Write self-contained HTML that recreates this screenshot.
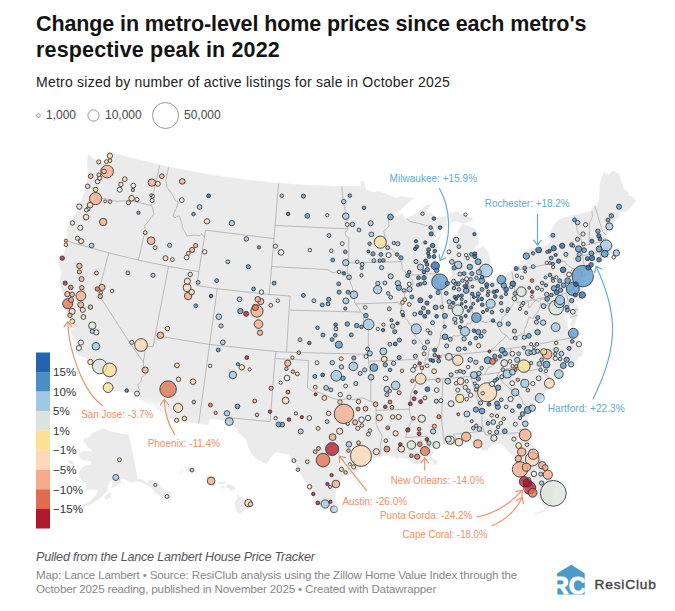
<!DOCTYPE html>
<html lang="en"><head><meta charset="utf-8"><title>Change in metro-level home prices</title>
<style>
html,body{margin:0;padding:0;background:#fff;}
body{width:675px;height:611px;position:relative;overflow:hidden;font-family:"Liberation Sans",Arial,sans-serif;color:#333;}
h1{position:absolute;left:36px;top:11.1px;margin:0;font-size:21.5px;line-height:26px;font-weight:700;color:#141414;letter-spacing:-0.11px;white-space:nowrap;}
.sub{position:absolute;left:36px;top:72px;margin:0;font-size:14px;line-height:20px;color:#222;white-space:nowrap;letter-spacing:0.24px;}
.sz{position:absolute;top:107px;font-size:12px;line-height:16px;color:#484848;white-space:nowrap;}
.note{position:absolute;left:36px;top:548px;font-size:12.6px;line-height:18px;font-style:italic;color:#555;white-space:nowrap;letter-spacing:-0.22px;}
.foot{position:absolute;left:36px;top:568.3px;font-size:11.6px;line-height:13.7px;color:#888;white-space:nowrap;letter-spacing:-0.15px;}
.logo{position:absolute;left:594.5px;top:575.2px;font-size:13.7px;line-height:20px;font-weight:400;color:#474747;letter-spacing:0.84px;-webkit-text-stroke:0.45px #474747;}
svg{position:absolute;left:0;top:0;}
svg text{font-family:"Liberation Sans",Arial,sans-serif;}
</style></head><body>
<h1>Change in metro-level home prices since each metro's<br><span style="letter-spacing:0.16px">respective peak in 2022</span></h1>
<p class="sub">Metro sized by number of active listings for sale in October 2025</p>
<span class="sz" style="left:46px">1,000</span><span class="sz" style="left:105px">10,000</span><span class="sz" style="left:184px">50,000</span>
<svg width="675" height="611" viewBox="0 0 675 611">
<g fill="none" stroke="#8c8c8c" stroke-width="0.9"><circle cx="38.5" cy="115.5" r="1.8"/><circle cx="93.5" cy="115.5" r="5.6"/><circle cx="165.5" cy="115.5" r="13"/></g>
<path d="M88.4,154.6L93.3,158.7L98.9,161.4L103.2,163.1L105.2,163.0L105.5,166.7L100.3,173.1L98.5,176.2L100.7,177.1L104.6,175.5L106.5,171.3L109.2,166.3L108.5,161.8L109.8,155.7L108.2,151.7L133.1,158.5L159.8,164.9L168.7,166.9L196.4,172.3L223.9,176.9L251.4,180.5L278.6,183.2L306.8,185.2L334.6,186.2L341.8,186.3L361.0,186.4L361.0,181.1L363.8,181.9L365.7,189.8L373.7,192.6L377.4,191.6L384.9,193.4L390.7,196.0L396.4,198.2L401.9,196.1L409.6,197.7L413.4,198.2L406.2,204.2L398.0,211.6L390.6,216.8L396.3,216.1L402.4,213.4L404.1,217.5L406.8,218.5L414.5,214.4L420.9,210.1L425.3,205.9L431.4,204.4L427.5,209.6L425.5,214.0L430.6,212.2L435.9,217.0L443.6,217.2L450.0,213.4L458.5,211.2L459.8,214.8L465.1,214.1L467.9,217.3L473.0,218.8L470.4,221.2L462.8,223.5L455.7,221.1L448.2,223.8L443.7,227.7L439.8,228.1L435.7,236.9L432.7,242.1L432.4,244.9L436.0,240.4L440.9,233.9L438.5,240.8L437.2,248.0L436.3,255.1L435.2,265.7L436.9,273.3L439.1,281.6L441.5,284.9L445.1,284.6L448.5,282.1L451.1,276.9L452.8,268.3L448.6,257.4L448.9,249.7L449.5,241.2L453.5,237.2L455.2,234.2L456.6,238.3L457.5,232.6L460.3,227.3L462.4,224.3L468.1,226.1L475.4,229.3L478.1,235.0L478.7,243.3L473.9,248.9L474.5,253.1L479.0,249.0L483.2,246.3L487.4,251.3L490.2,260.1L490.5,265.5L487.2,268.4L485.1,271.5L484.5,275.1L482.5,279.4L488.6,281.7L494.9,281.8L500.9,279.9L507.3,274.2L511.9,271.3L515.7,268.2L518.9,266.0L524.6,259.6L526.1,256.4L523.6,251.2L529.8,248.3L538.0,248.2L545.8,245.9L548.7,242.7L550.9,240.9L548.5,234.2L552.4,228.8L556.0,221.9L561.3,218.5L574.2,215.3L591.9,210.9L592.1,207.8L594.8,205.9L597.2,206.0L597.0,203.5L599.6,198.1L599.5,192.3L600.2,187.8L599.8,184.3L603.9,172.1L606.2,173.8L608.0,175.0L612.8,171.0L618.5,173.4L623.3,188.3L627.8,192.0L629.0,196.0L632.4,197.1L635.5,201.0L630.9,207.1L626.0,211.5L619.7,211.2L618.9,217.3L612.6,222.7L609.3,225.8L607.6,232.9L606.1,235.2L606.2,238.0L609.0,240.5L606.3,245.6L609.8,246.8L611.7,249.9L613.4,252.1L617.9,250.7L616.6,247.5L615.1,247.3L618.4,248.8L619.3,251.9L615.9,253.4L612.8,255.8L611.1,253.4L608.4,257.4L605.0,256.8L605.4,258.9L604.9,260.2L601.4,261.8L596.7,263.8L591.1,265.2L586.7,269.0L584.4,270.7L583.0,273.9L587.2,271.2L594.7,268.6L598.1,265.2L601.0,265.9L602.2,265.3L596.7,270.3L589.2,274.9L582.7,277.2L580.6,277.1L580.0,279.4L582.7,279.5L583.7,286.1L582.2,293.7L579.3,300.1L577.6,302.2L574.7,299.0L570.3,296.4L569.1,293.7L571.2,298.3L574.9,302.5L576.4,304.4L578.0,309.1L578.0,311.2L576.9,316.5L574.9,323.5L572.2,329.5L570.9,325.0L572.3,318.3L569.7,316.7L565.6,313.2L563.9,307.8L564.1,303.4L564.9,296.8L563.7,296.3L560.9,301.2L561.4,305.2L562.3,311.7L564.3,314.9L565.8,317.6L558.9,315.3L556.4,311.5L557.0,314.3L560.8,316.8L566.9,319.4L567.1,324.4L568.4,329.2L568.5,332.0L569.2,332.9L572.5,332.2L575.0,337.1L577.7,341.6L580.9,346.6L582.8,352.0L582.7,354.5L577.9,357.8L573.4,365.5L568.0,365.6L563.1,370.5L560.1,376.1L559.5,379.1L552.8,380.3L549.2,383.4L547.0,390.7L543.6,394.8L540.1,398.7L534.5,404.2L532.2,408.1L530.2,410.2L527.8,418.1L526.3,424.0L526.6,429.6L528.0,434.3L530.3,440.3L535.2,449.4L539.6,455.1L542.3,458.9L542.5,463.8L546.6,469.4L550.2,475.9L552.7,481.8L553.2,490.1L553.6,494.5L551.8,500.9L549.6,503.3L545.3,504.7L542.5,505.2L541.6,501.8L537.5,496.2L531.9,492.8L529.3,488.3L526.6,487.3L524.2,483.5L521.9,481.0L519.8,477.8L519.1,474.4L520.4,470.7L517.6,473.2L515.3,470.0L515.7,463.6L515.6,456.6L510.6,454.1L505.5,447.4L500.7,443.4L495.7,442.7L493.0,445.1L486.3,450.3L482.0,450.1L481.0,446.9L477.1,444.1L470.8,442.0L465.9,441.5L458.8,443.3L455.3,444.2L449.9,445.4L450.1,440.1L448.2,439.2L447.8,443.9L444.4,443.8L438.4,444.0L433.1,445.7L430.2,447.6L427.3,449.6L432.7,449.6L433.6,453.3L430.1,455.7L433.4,459.0L437.8,461.4L436.8,463.9L433.6,464.8L432.9,461.1L427.9,459.3L425.6,461.6L421.5,463.5L415.4,464.3L410.4,461.0L408.4,458.0L403.5,458.5L399.9,457.3L401.0,454.7L398.1,458.4L389.5,455.9L385.8,455.4L379.2,456.6L372.6,459.1L368.7,461.6L368.3,456.1L365.3,457.5L366.6,462.4L361.7,467.6L353.2,472.9L348.2,475.7L345.8,472.2L342.7,479.1L340.2,482.8L335.8,483.5L337.0,486.7L335.1,490.8L335.6,499.8L338.0,506.8L338.6,508.6L334.2,509.8L325.3,507.3L318.5,503.3L314.1,501.8L312.2,495.1L309.7,486.7L305.5,482.4L302.6,476.7L298.0,469.5L295.8,463.8L293.0,460.2L287.8,454.0L281.8,453.2L277.1,451.8L273.9,453.4L269.9,458.7L265.9,463.8L260.6,460.8L255.3,458.0L251.7,454.3L248.4,447.2L246.6,440.0L241.1,435.2L234.8,426.8L229.4,421.2L229.1,420.9L209.4,418.5L208.6,424.8L175.0,419.9L153.9,407.5L134.5,396.1L136.1,393.1L108.2,389.9L107.2,387.2L107.3,385.1L107.1,380.0L104.5,375.7L100.8,371.1L97.6,369.9L97.8,367.7L96.8,365.6L93.9,365.4L89.3,360.3L85.3,357.4L77.0,354.5L75.4,352.2L77.6,344.9L75.9,340.8L72.3,335.5L68.2,325.2L68.8,320.9L71.2,318.7L69.1,315.9L66.3,311.7L66.6,305.7L67.5,303.3L69.2,303.5L70.7,308.3L70.8,303.9L69.2,301.3L67.7,302.6L65.9,301.1L63.1,298.8L63.8,294.6L59.5,284.5L60.7,276.0L61.8,271.2L58.6,263.6L58.7,261.6L62.7,257.5L66.0,248.2L66.1,244.6L67.1,241.2L67.2,233.9L67.1,228.9L71.9,222.1L76.1,214.6L79.1,206.3L83.8,195.0L86.3,184.9L87.5,179.4L88.2,175.3L87.7,167.2L87.1,161.2L88.4,154.6ZM128.6,434.6L121.6,434.0L115.5,432.8L109.6,431.0L102.2,428.5L98.2,430.9L92.1,433.2L89.9,436.8L84.8,438.5L83.2,440.8L86.9,444.6L88.3,447.8L91.5,448.7L91.7,451.7L87.7,451.6L83.8,451.0L78.1,453.4L80.5,458.3L82.5,459.7L87.5,460.5L91.6,461.5L91.2,465.4L87.9,465.5L82.6,467.2L80.5,470.3L78.7,473.5L80.5,477.2L83.3,482.6L86.5,482.6L86.5,486.5L85.7,489.1L91.3,489.0L95.0,489.3L98.3,490.0L97.1,493.4L95.9,495.3L88.7,502.5L82.9,504.8L76.0,507.3L75.8,508.5L80.5,507.9L84.0,506.9L89.9,504.6L94.2,502.0L99.7,498.4L103.8,494.6L106.4,491.6L108.1,489.4L106.9,486.3L109.7,482.3L113.0,478.8L115.7,477.4L115.1,479.1L112.8,481.0L112.3,485.2L111.6,487.6L116.2,486.0L117.6,483.7L120.9,483.1L120.2,479.8L124.0,477.9L126.2,480.1L130.6,482.0L135.4,481.2L141.1,482.0L146.2,484.4L150.7,486.7L154.8,491.7L159.6,495.4L164.2,499.1L168.5,498.6L171.2,497.9L170.6,492.2L164.4,490.2L163.4,489.0L159.2,485.3L158.1,483.6L155.1,481.7L152.8,480.1L149.3,480.5L147.3,483.6L143.7,480.4L142.0,479.3L137.5,479.3L128.6,434.6ZM104.3,497.0L106.6,499.7L110.8,496.5L111.0,493.8L108.9,493.6L106.4,495.1ZM69.3,512.0L66.3,512.4L63.0,513.4L66.0,510.8L69.5,509.8L71.4,510.4ZM68.0,462.0L70.9,463.8L74.1,464.5L72.6,461.6L69.1,460.5ZM74.2,479.6L77.2,482.1L78.1,480.8L77.0,479.1ZM45.6,513.0L49.9,514.3L51.7,513.5L46.9,511.8ZM36.3,511.8L40.7,513.1L40.5,511.8L36.5,510.6ZM237.0,494.9L247.3,500.7L251.3,505.3L242.1,511.2L239.8,513.7L236.6,511.2L234.7,502.9L237.5,498.7ZM226.3,485.5L227.6,484.4L232.2,485.5L235.4,487.9L234.1,489.9L230.2,490.6L228.9,487.9L226.5,487.3ZM218.4,483.4L219.0,481.8L226.0,482.5L223.9,484.1ZM221.7,486.2L224.7,486.9L223.6,488.6L221.7,487.6ZM205.6,476.9L209.5,474.8L213.8,480.7L211.8,481.3L207.9,480.6ZM186.0,470.1L188.4,467.6L192.3,468.8L191.9,471.5L188.4,472.5ZM179.9,472.8L182.1,470.7L182.5,472.1ZM552.1,502.6L549.3,506.9L543.8,511.2L535.2,514.6L535.0,513.7L543.5,509.9L549.3,505.2L552.5,501.4Z" fill="#ebebeb" stroke="#ebebeb" stroke-width="0.6" stroke-linejoin="round"/>
<path d="M86.3,184.9L91.7,187.2L95.5,189.8L95.9,193.6L96.0,196.9L100.5,198.9L105.6,198.5L110.2,200.5L117.0,201.3L126.2,200.8L131.9,201.8L132.3,201.1L151.8,205.7M159.8,164.9L151.9,199.6L151.8,205.7M151.8,205.7L152.6,208.1L154.1,214.1L151.4,217.1L149.2,220.2L144.3,226.2L145.5,230.1L146.0,232.3L144.0,235.5L138.4,260.1M67.1,241.2L108.7,252.9L138.4,260.1L168.5,266.4L198.9,271.7M108.7,252.9L98.2,293.8L116.0,321.4L131.1,345.0L143.4,361.9M143.4,361.9L143.5,364.8L144.1,372.1L146.8,373.0L141.9,377.4L140.8,381.5L137.7,385.1L139.4,389.8L137.3,393.2L136.1,393.1M143.4,361.9L144.8,353.6L145.1,347.2L149.1,346.5L153.0,346.6L155.2,335.5M155.2,335.5L168.5,266.4M155.2,335.5L209.6,344.5L276.0,351.5L286.4,352.2L368.4,354.3M209.6,344.5L217.3,288.7M217.3,288.7L196.7,285.6L198.9,271.7L204.4,237.4M217.3,288.7L269.2,294.5L290.0,296.0L289.1,310.1L286.4,352.2M289.1,310.1L360.6,312.1M204.4,237.4L201.5,233.5L200.1,235.7L194.2,235.1L187.0,236.0L185.1,232.4L182.1,226.9L182.1,224.0L179.2,215.7L174.8,217.7L173.1,216.3L174.3,212.6L176.1,208.7L178.4,202.1L175.2,200.7L173.2,196.1L170.6,192.0L167.2,187.7L165.8,180.6L168.7,166.9M204.4,237.4L205.5,230.2L274.0,238.6M278.6,183.2L275.1,225.5L274.0,238.6L271.6,266.5L269.2,294.5M275.1,225.5L347.7,228.8M271.6,266.5L327.8,269.6L332.8,272.9L336.9,271.9L341.0,272.0L346.0,275.5L348.6,276.9M341.8,186.3L342.4,194.6L343.3,201.5L345.1,208.5L345.5,215.4L347.4,223.8L347.7,228.8M347.7,228.8L344.9,232.8L346.3,236.3L348.8,237.7L348.6,262.9M348.6,262.9L347.1,268.5L348.1,274.1L348.6,276.9M348.6,262.9L401.3,261.7M348.6,276.9L350.1,281.9L352.1,286.8L354.0,294.5L354.7,302.3L355.6,303.9L359.5,309.3L360.6,312.1M355.6,303.9L398.0,302.5L401.4,305.6M360.6,312.1L364.9,315.6L362.8,319.1L368.2,324.4L368.4,354.3L368.5,361.3M368.5,361.3L418.1,359.4L418.9,362.2L416.1,366.6L423.6,366.1M368.5,361.3L370.9,376.8L370.7,401.5M370.7,401.5L375.8,402.7L376.0,410.4L376.2,424.4L379.2,430.7L382.3,436.2L380.5,444.0L380.9,450.9L379.2,456.6M376.0,410.4L409.3,409.2M370.7,401.5L362.4,397.7L353.2,399.7L346.3,398.7L339.4,400.0L331.3,397.8L324.5,394.5L316.6,391.8L310.9,390.2L307.6,387.8L308.7,360.5L275.5,358.6M276.0,351.5L275.0,358.5L270.1,421.6L228.4,417.7L229.1,420.9M209.6,344.5L198.7,423.4M409.3,409.2L410.5,416.2L413.0,418.9L407.6,429.0L405.6,437.5L427.9,436.2L426.8,441.2L430.2,447.6M409.3,409.2L409.8,402.2L411.5,392.2L414.6,386.4L417.7,380.6L419.9,378.4L421.7,371.9L423.6,366.1L425.0,361.8L425.3,358.9L428.5,356.6L428.7,351.6M417.7,380.6L441.5,378.9L470.8,376.4L485.2,374.5L498.9,372.6M441.5,378.9L442.7,380.2L441.7,421.2L444.4,443.8M455.3,444.2L455.9,438.2L453.2,434.3L484.0,431.1L486.2,435.1L518.0,432.7L520.2,435.4L519.9,429.5L526.6,429.6M470.8,376.4L478.9,405.3L481.9,413.0L481.9,422.9L484.0,431.1M530.2,410.2L526.7,406.9L523.1,403.2L521.1,397.8L515.0,392.3L506.5,385.8L499.8,378.9L496.7,377.2L498.9,372.6M498.9,372.6L506.9,368.7L521.6,367.2L523.0,367.6L525.1,371.3L537.8,369.4L552.8,380.3M485.2,374.5L487.5,368.4L493.4,365.3L499.3,359.1L502.4,357.2L508.4,355.4L511.5,348.2M511.5,348.2L489.5,351.2L463.9,353.8L441.0,355.2L441.4,357.7L425.3,358.9M511.5,348.2L530.0,345.8L575.0,337.1M489.5,351.2L495.4,346.8L499.3,342.7L503.2,339.3L506.3,335.4M506.3,335.4L510.0,339.7L514.7,337.9L518.8,335.5L524.5,333.1L524.4,329.6L526.8,324.2L528.9,317.0L533.0,318.5L536.7,312.8L539.1,309.6L540.6,303.1L546.7,305.7L547.4,302.9M506.3,335.4L502.3,333.0L498.2,327.2L497.7,324.2M514.9,289.9L514.6,294.1L514.4,298.1L513.6,303.5L510.6,308.3L507.2,310.7L505.6,314.7L501.8,317.6L501.7,321.0L499.4,323.9L497.7,324.2L492.9,320.4L488.7,322.1L485.0,322.6L479.3,320.5L476.2,317.3L472.8,317.7L470.5,323.7L467.2,323.6L464.1,330.5L460.8,334.7L456.5,336.1L453.2,335.7L450.2,338.8L444.9,336.6L439.9,339.5L439.1,343.8L436.3,349.7L434.7,350.1L430.1,348.7L428.7,351.6M439.9,339.5L440.9,332.3L444.3,327.8L443.6,317.2L440.6,283.5M472.8,317.7L468.5,281.4M447.0,282.9L468.4,280.6L468.5,281.4L482.5,279.4M511.9,271.3L514.9,289.9L517.0,302.7L527.9,300.8L566.4,293.3L567.6,291.5L569.7,291.4M566.4,293.3L570.2,310.8L578.0,309.1M527.9,300.8L529.1,308.1L532.5,303.6L535.5,300.5L539.2,301.5L541.4,298.7L545.3,299.3L547.4,302.9M547.4,302.9L550.0,304.2L553.8,306.6L555.9,308.0L556.4,311.5M569.8,317.3L577.2,315.3M518.9,266.0L519.5,269.7L564.1,261.0M564.1,261.0L568.3,265.8L572.7,268.4L569.5,274.6L569.6,278.5L573.1,282.0L575.8,284.6L572.7,289.3L569.7,291.4L569.2,294.1M572.7,268.4L581.9,271.3L581.8,275.7L580.6,277.1M584.4,270.7L583.3,269.5L585.4,267.3L584.5,266.4L582.5,256.0L582.5,245.9L580.0,234.9L578.2,233.9L576.4,226.5L575.5,220.9L574.2,215.3M591.9,210.9L592.4,216.6L589.4,223.2L589.7,230.3L589.0,237.8L589.6,244.4M582.5,245.9L589.6,244.4L602.1,241.6L603.1,239.6L606.2,238.0M582.5,256.0L599.6,252.2L603.7,251.1L604.2,252.7L606.7,254.9L608.2,257.4M599.6,252.2L601.8,260.6L601.4,261.8M606.1,235.2L602.7,231.3L600.0,223.3L594.8,205.9M435.7,236.9L433.0,233.6L433.0,228.7L429.9,226.2L423.9,225.0L419.9,223.6L409.9,221.5L406.8,218.5M390.6,216.8L388.7,218.2L389.0,225.9L383.9,231.7L385.0,237.2L385.3,244.9L389.9,248.2L394.0,251.5L400.3,256.9L401.3,261.7L402.4,268.7L407.8,275.4M407.8,275.4L436.9,273.3M407.8,275.4L412.8,280.8L413.0,285.0L410.2,289.4L404.7,293.2L404.5,300.9L401.4,305.6L400.8,310.3L402.6,315.1L407.7,320.5L410.1,325.3L415.5,326.4L416.0,329.5L414.5,335.6L419.7,340.3L424.6,347.7L428.7,351.6" fill="none" stroke="#a4a4a4" stroke-width="0.7" stroke-linejoin="round"/>
<g><rect x="36" y="352.50" width="14" height="19.6" fill="#2166ac"/><rect x="36" y="372.05" width="14" height="19.6" fill="#4b8ec4"/><rect x="36" y="391.60" width="14" height="19.6" fill="#9fc8e4"/><rect x="36" y="411.15" width="14" height="19.6" fill="#dbe4dc"/><rect x="36" y="430.70" width="14" height="19.6" fill="#fde293"/><rect x="36" y="450.25" width="14" height="19.6" fill="#fdd9b8"/><rect x="36" y="469.80" width="14" height="19.6" fill="#f7ab8a"/><rect x="36" y="489.35" width="14" height="19.6" fill="#e06e4e"/><rect x="36" y="508.90" width="14" height="19.6" fill="#b2182b"/></g>
<g font-size="11.6" fill="#333"><text x="53" y="376.2">15%</text><text x="53" y="395.8">10%</text><text x="53" y="415.3">5%</text><text x="53" y="434.9">1%</text><text x="53" y="454.4">−1%</text><text x="53" y="474.0">−5%</text><text x="53" y="493.6">−10%</text><text x="53" y="513.1">−15%</text></g>
<g stroke="#333" stroke-width="0.85" fill-opacity="0.76"><circle cx="553.3" cy="493.3" r="12.93" fill="#dbe4dc"/><circle cx="582.8" cy="276.1" r="10.71" fill="#5596cc"/><circle cx="361.0" cy="455.8" r="10.52" fill="#fdd9b8"/><circle cx="344.0" cy="413.9" r="9.78" fill="#f7ab8a"/><circle cx="487.2" cy="392.3" r="9.59" fill="#fdd9b8"/><circle cx="168.1" cy="389.1" r="8.30" fill="#e06e4e"/><circle cx="439.7" cy="281.9" r="8.00" fill="#5596cc"/><circle cx="520.0" cy="469.4" r="7.71" fill="#f7ab8a"/><circle cx="556.1" cy="307.6" r="7.37" fill="#dbe4dc"/><circle cx="99.7" cy="366.4" r="7.26" fill="#dbe4dc"/><circle cx="532.2" cy="459.2" r="6.82" fill="#fdd9b8"/><circle cx="323.0" cy="460.1" r="6.82" fill="#e06e4e"/><circle cx="109.6" cy="369.9" r="6.82" fill="#fde293"/><circle cx="332.1" cy="449.0" r="6.52" fill="#b2182b"/><circle cx="485.9" cy="270.6" r="6.48" fill="#9fc8e4"/><circle cx="572.8" cy="288.9" r="6.48" fill="#5596cc"/><circle cx="107.1" cy="171.5" r="6.37" fill="#f7ab8a"/><circle cx="141.0" cy="345.0" r="6.37" fill="#fdd9b8"/><circle cx="523.9" cy="366.1" r="6.26" fill="#fde293"/><circle cx="529.4" cy="487.8" r="6.26" fill="#b2182b"/><circle cx="95.6" cy="198.6" r="6.08" fill="#f7ab8a"/><circle cx="257.0" cy="311.1" r="6.08" fill="#f7ab8a"/><circle cx="380.3" cy="242.2" r="6.08" fill="#fde293"/><circle cx="525.2" cy="435.0" r="5.93" fill="#f7ab8a"/><circle cx="606.1" cy="245.6" r="5.71" fill="#9fc8e4"/><circle cx="457.8" cy="310.3" r="5.48" fill="#dbe4dc"/><circle cx="420.6" cy="378.8" r="5.37" fill="#fdd9b8"/><circle cx="368.6" cy="324.4" r="5.34" fill="#9fc8e4"/><circle cx="336.3" cy="375.8" r="5.34" fill="#9fc8e4"/><circle cx="457.8" cy="360.3" r="5.15" fill="#fdd9b8"/><circle cx="559.4" cy="302.6" r="5.15" fill="#9fc8e4"/><circle cx="533.3" cy="454.2" r="5.15" fill="#f7ab8a"/><circle cx="524.4" cy="481.7" r="5.15" fill="#b2182b"/><circle cx="67.7" cy="303.7" r="5.04" fill="#e06e4e"/><circle cx="416.3" cy="328.9" r="5.04" fill="#9fc8e4"/><circle cx="573.3" cy="333.3" r="4.93" fill="#5596cc"/><circle cx="549.4" cy="383.3" r="4.93" fill="#fdd9b8"/><circle cx="80.9" cy="295.9" r="4.89" fill="#f7ab8a"/><circle cx="108.1" cy="387.6" r="4.89" fill="#fde293"/><circle cx="521.4" cy="291.7" r="4.82" fill="#dbe4dc"/><circle cx="476.4" cy="317.6" r="4.82" fill="#5596cc"/><circle cx="547.2" cy="354.2" r="4.82" fill="#f7ab8a"/><circle cx="560.0" cy="300.0" r="4.59" fill="#9fc8e4"/><circle cx="490.6" cy="303.7" r="4.59" fill="#9fc8e4"/><circle cx="465.0" cy="331.4" r="4.59" fill="#9fc8e4"/><circle cx="539.8" cy="398.1" r="4.59" fill="#9fc8e4"/><circle cx="547.8" cy="474.7" r="4.59" fill="#f7ab8a"/><circle cx="425.0" cy="451.1" r="4.59" fill="#e06e4e"/><circle cx="466.1" cy="436.7" r="4.59" fill="#f7ab8a"/><circle cx="178.1" cy="407.9" r="4.59" fill="#fdd9b8"/><circle cx="501.4" cy="279.8" r="4.37" fill="#5596cc"/><circle cx="555.6" cy="327.2" r="4.37" fill="#9fc8e4"/><circle cx="532.6" cy="492.8" r="4.37" fill="#e06e4e"/><circle cx="258.5" cy="324.1" r="4.30" fill="#f7ab8a"/><circle cx="353.3" cy="366.4" r="4.30" fill="#9fc8e4"/><circle cx="558.9" cy="374.1" r="4.26" fill="#9fc8e4"/><circle cx="395.6" cy="385.4" r="4.26" fill="#9fc8e4"/><circle cx="411.4" cy="445.0" r="4.26" fill="#dbe4dc"/><circle cx="435.3" cy="265.9" r="4.15" fill="#2166ac"/><circle cx="377.6" cy="289.6" r="4.15" fill="#9fc8e4"/><circle cx="325.1" cy="504.0" r="4.15" fill="#9fc8e4"/><circle cx="459.8" cy="398.4" r="4.04" fill="#fde293"/><circle cx="524.8" cy="383.4" r="4.04" fill="#9fc8e4"/><circle cx="507.2" cy="374.0" r="4.04" fill="#9fc8e4"/><circle cx="521.7" cy="452.0" r="4.04" fill="#f7ab8a"/><circle cx="526.4" cy="467.2" r="4.04" fill="#f7ab8a"/><circle cx="527.4" cy="482.8" r="4.04" fill="#b2182b"/><circle cx="450.2" cy="440.2" r="4.04" fill="#dbe4dc"/><circle cx="477.8" cy="443.9" r="4.04" fill="#f7ab8a"/><circle cx="187.1" cy="287.7" r="4.00" fill="#fdd9b8"/><circle cx="229.3" cy="421.5" r="4.00" fill="#9fc8e4"/><circle cx="151.1" cy="240.7" r="3.85" fill="#f7ab8a"/><circle cx="353.9" cy="294.8" r="3.85" fill="#9fc8e4"/><circle cx="373.9" cy="367.6" r="3.85" fill="#5596cc"/><circle cx="335.9" cy="484.0" r="3.85" fill="#f7ab8a"/><circle cx="211.1" cy="480.9" r="3.85" fill="#f7ab8a"/><circle cx="458.1" cy="265.0" r="3.82" fill="#9fc8e4"/><circle cx="458.9" cy="442.2" r="3.82" fill="#fdd9b8"/><circle cx="95.9" cy="346.3" r="3.82" fill="#9fc8e4"/><circle cx="103.1" cy="222.0" r="3.71" fill="#f7ab8a"/><circle cx="151.9" cy="182.6" r="3.71" fill="#f7ab8a"/><circle cx="92.3" cy="325.6" r="3.71" fill="#dbe4dc"/><circle cx="188.1" cy="296.0" r="3.71" fill="#f7ab8a"/><circle cx="515.2" cy="392.3" r="3.71" fill="#9fc8e4"/><circle cx="542.2" cy="465.3" r="3.71" fill="#f7ab8a"/><circle cx="421.7" cy="418.7" r="3.71" fill="#dbe4dc"/><circle cx="232.9" cy="375.0" r="3.71" fill="#9fc8e4"/><circle cx="248.4" cy="503.1" r="3.71" fill="#fdd9b8"/><circle cx="609.3" cy="226.4" r="3.56" fill="#9fc8e4"/><circle cx="338.8" cy="344.7" r="3.56" fill="#5596cc"/><circle cx="604.7" cy="253.7" r="3.48" fill="#5596cc"/><circle cx="487.8" cy="360.3" r="3.48" fill="#5596cc"/><circle cx="504.2" cy="363.1" r="3.48" fill="#dbe4dc"/><circle cx="546.4" cy="364.6" r="3.48" fill="#5596cc"/><circle cx="473.9" cy="375.1" r="3.48" fill="#9fc8e4"/><circle cx="460.6" cy="381.2" r="3.48" fill="#fdd9b8"/><circle cx="527.8" cy="410.1" r="3.48" fill="#5596cc"/><circle cx="436.4" cy="445.0" r="3.48" fill="#dbe4dc"/><circle cx="383.3" cy="351.4" r="3.48" fill="#9fc8e4"/><circle cx="448.9" cy="356.8" r="3.48" fill="#dbe4dc"/><circle cx="334.0" cy="509.3" r="3.48" fill="#9fc8e4"/><circle cx="285.6" cy="400.5" r="3.41" fill="#fdd9b8"/><circle cx="332.6" cy="437.1" r="3.41" fill="#f7ab8a"/><circle cx="345.8" cy="216.2" r="3.26" fill="#9fc8e4"/><circle cx="582.2" cy="295.0" r="3.26" fill="#2166ac"/><circle cx="532.2" cy="408.1" r="3.26" fill="#9fc8e4"/><circle cx="401.3" cy="448.9" r="3.26" fill="#fdd9b8"/><circle cx="160.4" cy="335.3" r="3.26" fill="#f7ab8a"/><circle cx="526.3" cy="256.1" r="3.15" fill="#5596cc"/><circle cx="578.6" cy="248.9" r="3.15" fill="#5596cc"/><circle cx="616.4" cy="253.0" r="3.15" fill="#9fc8e4"/><circle cx="543.7" cy="351.8" r="3.15" fill="#fde293"/><circle cx="518.3" cy="458.6" r="3.15" fill="#f7ab8a"/><circle cx="493.9" cy="438.1" r="3.15" fill="#dbe4dc"/><circle cx="101.9" cy="287.4" r="3.11" fill="#f7ab8a"/><circle cx="72.1" cy="311.4" r="3.11" fill="#fdd9b8"/><circle cx="187.4" cy="281.2" r="3.11" fill="#fdd9b8"/><circle cx="255.3" cy="307.4" r="3.11" fill="#e06e4e"/><circle cx="345.8" cy="262.7" r="3.11" fill="#9fc8e4"/><circle cx="260.7" cy="301.5" r="3.11" fill="#f7ab8a"/><circle cx="420.4" cy="267.1" r="3.11" fill="#9fc8e4"/><circle cx="287.7" cy="363.2" r="3.11" fill="#f7ab8a"/><circle cx="379.3" cy="417.6" r="3.11" fill="#fdd9b8"/><circle cx="339.7" cy="431.2" r="3.11" fill="#fdd9b8"/><circle cx="376.3" cy="451.7" r="3.11" fill="#fdd9b8"/><circle cx="145.2" cy="370.1" r="3.11" fill="#f7ab8a"/><circle cx="115.8" cy="477.5" r="2.99" fill="#9fc8e4"/><circle cx="80.7" cy="304.7" r="2.96" fill="#f7ab8a"/><circle cx="345.9" cy="300.9" r="2.96" fill="#9fc8e4"/><circle cx="478.1" cy="261.7" r="2.93" fill="#5596cc"/><circle cx="481.7" cy="280.6" r="2.93" fill="#5596cc"/><circle cx="538.6" cy="250.0" r="2.93" fill="#2166ac"/><circle cx="599.1" cy="248.9" r="2.93" fill="#5596cc"/><circle cx="492.4" cy="361.4" r="2.93" fill="#e06e4e"/><circle cx="528.3" cy="352.6" r="2.93" fill="#9fc8e4"/><circle cx="563.3" cy="365.6" r="2.93" fill="#5596cc"/><circle cx="512.4" cy="372.1" r="2.93" fill="#9fc8e4"/><circle cx="466.9" cy="414.0" r="2.93" fill="#9fc8e4"/><circle cx="518.6" cy="445.6" r="2.93" fill="#fde293"/><circle cx="545.2" cy="467.6" r="2.93" fill="#f7ab8a"/><circle cx="447.8" cy="381.2" r="2.93" fill="#9fc8e4"/><circle cx="386.9" cy="389.2" r="2.93" fill="#9fc8e4"/><circle cx="451.1" cy="403.7" r="2.93" fill="#dbe4dc"/><circle cx="386.9" cy="449.1" r="2.93" fill="#e06e4e"/><circle cx="448.3" cy="439.2" r="2.93" fill="#dbe4dc"/><circle cx="384.2" cy="359.2" r="2.93" fill="#fdd9b8"/><circle cx="90.1" cy="205.1" r="2.82" fill="#fdd9b8"/><circle cx="86.1" cy="217.1" r="2.82" fill="#fdd9b8"/><circle cx="131.6" cy="198.3" r="2.82" fill="#fde293"/><circle cx="182.2" cy="181.4" r="2.82" fill="#f7ab8a"/><circle cx="390.5" cy="217.0" r="2.82" fill="#5596cc"/><circle cx="191.6" cy="292.1" r="2.82" fill="#fdd9b8"/><circle cx="218.8" cy="316.7" r="2.82" fill="#9fc8e4"/><circle cx="257.8" cy="299.3" r="2.82" fill="#f7ab8a"/><circle cx="281.0" cy="252.4" r="2.82" fill="#eff3ed"/><circle cx="456.1" cy="240.0" r="2.82" fill="#9fc8e4"/><circle cx="466.1" cy="290.6" r="2.82" fill="#5596cc"/><circle cx="512.8" cy="283.9" r="2.82" fill="#2166ac"/><circle cx="563.1" cy="269.8" r="2.82" fill="#2166ac"/><circle cx="567.6" cy="280.6" r="2.82" fill="#5596cc"/><circle cx="502.2" cy="350.3" r="2.82" fill="#5596cc"/><circle cx="482.0" cy="411.0" r="2.82" fill="#5596cc"/><circle cx="525.3" cy="423.8" r="2.82" fill="#9fc8e4"/><circle cx="445.0" cy="336.8" r="2.82" fill="#5596cc"/><circle cx="287.0" cy="378.0" r="2.82" fill="#eff3ed"/><circle cx="371.1" cy="377.3" r="2.82" fill="#9fc8e4"/><circle cx="361.5" cy="419.8" r="2.82" fill="#eff3ed"/><circle cx="348.9" cy="444.3" r="2.82" fill="#9fc8e4"/><circle cx="193.0" cy="381.7" r="2.82" fill="#fdd9b8"/><circle cx="469.8" cy="266.9" r="2.71" fill="#5596cc"/><circle cx="503.9" cy="285.6" r="2.71" fill="#5596cc"/><circle cx="543.1" cy="322.6" r="2.71" fill="#9fc8e4"/><circle cx="537.6" cy="332.2" r="2.71" fill="#5596cc"/><circle cx="498.1" cy="387.7" r="2.71" fill="#5596cc"/><circle cx="533.9" cy="473.9" r="2.71" fill="#eff3ed"/><circle cx="109.9" cy="155.9" r="2.67" fill="#fdd9b8"/><circle cx="79.3" cy="206.6" r="2.67" fill="#fdd9b8"/><circle cx="207.0" cy="221.3" r="2.67" fill="#fdd9b8"/><circle cx="231.9" cy="223.2" r="2.67" fill="#9fc8e4"/><circle cx="79.4" cy="265.9" r="2.67" fill="#f7ab8a"/><circle cx="67.4" cy="294.1" r="2.67" fill="#f7ab8a"/><circle cx="240.4" cy="311.1" r="2.67" fill="#5596cc"/><circle cx="397.9" cy="283.3" r="2.67" fill="#9fc8e4"/><circle cx="399.0" cy="287.7" r="2.67" fill="#5596cc"/><circle cx="409.5" cy="289.3" r="2.67" fill="#9fc8e4"/><circle cx="368.1" cy="418.0" r="2.67" fill="#eff3ed"/><circle cx="260.0" cy="332.7" r="2.67" fill="#f7ab8a"/><circle cx="241.8" cy="367.3" r="2.67" fill="#fde293"/><circle cx="90.4" cy="362.0" r="2.67" fill="#fde293"/><circle cx="227.0" cy="413.3" r="2.67" fill="#9fc8e4"/><circle cx="478.9" cy="272.2" r="2.59" fill="#9fc8e4"/><circle cx="553.7" cy="248.3" r="2.59" fill="#2166ac"/><circle cx="562.2" cy="245.8" r="2.59" fill="#2166ac"/><circle cx="578.3" cy="258.9" r="2.59" fill="#5596cc"/><circle cx="592.0" cy="258.0" r="2.59" fill="#2166ac"/><circle cx="553.9" cy="288.3" r="2.59" fill="#5596cc"/><circle cx="478.3" cy="332.0" r="2.59" fill="#5596cc"/><circle cx="517.2" cy="359.8" r="2.59" fill="#9fc8e4"/><circle cx="578.9" cy="344.2" r="2.59" fill="#eff3ed"/><circle cx="533.9" cy="352.0" r="2.59" fill="#9fc8e4"/><circle cx="566.7" cy="359.8" r="2.59" fill="#5596cc"/><circle cx="571.1" cy="364.4" r="2.59" fill="#9fc8e4"/><circle cx="492.0" cy="384.0" r="2.59" fill="#eff3ed"/><circle cx="497.8" cy="406.8" r="2.59" fill="#5596cc"/><circle cx="510.6" cy="399.0" r="2.59" fill="#eff3ed"/><circle cx="475.9" cy="409.6" r="2.59" fill="#5596cc"/><circle cx="398.7" cy="417.0" r="2.59" fill="#fdd9b8"/><circle cx="433.1" cy="431.4" r="2.59" fill="#9fc8e4"/><circle cx="395.6" cy="433.4" r="2.59" fill="#fdd9b8"/><circle cx="417.2" cy="456.7" r="2.59" fill="#e06e4e"/><circle cx="96.3" cy="332.4" r="2.59" fill="#eff3ed"/><circle cx="80.9" cy="342.6" r="2.59" fill="#eff3ed"/><circle cx="78.9" cy="348.0" r="2.59" fill="#eff3ed"/><circle cx="80.3" cy="227.8" r="2.52" fill="#eff3ed"/><circle cx="119.7" cy="189.7" r="2.52" fill="#eff3ed"/><circle cx="157.8" cy="183.8" r="2.52" fill="#fdd9b8"/><circle cx="370.7" cy="223.2" r="2.52" fill="#9fc8e4"/><circle cx="619.0" cy="206.7" r="2.52" fill="#5596cc"/><circle cx="81.2" cy="241.2" r="2.52" fill="#fdd9b8"/><circle cx="81.6" cy="279.1" r="2.52" fill="#f7ab8a"/><circle cx="71.1" cy="300.0" r="2.52" fill="#f7ab8a"/><circle cx="82.7" cy="309.9" r="2.52" fill="#fdd9b8"/><circle cx="192.1" cy="249.9" r="2.52" fill="#f7ab8a"/><circle cx="165.5" cy="258.2" r="2.52" fill="#fdd9b8"/><circle cx="246.1" cy="313.8" r="2.52" fill="#b2182b"/><circle cx="388.6" cy="255.1" r="2.52" fill="#eff3ed"/><circle cx="390.7" cy="276.3" r="2.52" fill="#9fc8e4"/><circle cx="420.4" cy="300.3" r="2.52" fill="#2166ac"/><circle cx="444.9" cy="315.9" r="2.52" fill="#5596cc"/><circle cx="369.8" cy="353.4" r="2.52" fill="#9fc8e4"/><circle cx="300.7" cy="431.4" r="2.52" fill="#9fc8e4"/><circle cx="355.1" cy="422.3" r="2.52" fill="#f7ab8a"/><circle cx="137.0" cy="393.6" r="2.52" fill="#eff3ed"/><circle cx="104.0" cy="171.5" r="2.37" fill="#fdd9b8"/><circle cx="90.7" cy="176.2" r="2.37" fill="#f7ab8a"/><circle cx="95.6" cy="189.6" r="2.37" fill="#fde293"/><circle cx="124.7" cy="179.2" r="2.37" fill="#fde293"/><circle cx="133.3" cy="185.6" r="2.37" fill="#eff3ed"/><circle cx="161.8" cy="176.2" r="2.37" fill="#f7ab8a"/><circle cx="181.8" cy="200.1" r="2.37" fill="#eff3ed"/><circle cx="199.6" cy="207.0" r="2.37" fill="#9fc8e4"/><circle cx="307.3" cy="215.9" r="2.37" fill="#5596cc"/><circle cx="371.4" cy="234.4" r="2.37" fill="#9fc8e4"/><circle cx="91.6" cy="245.5" r="2.37" fill="#9fc8e4"/><circle cx="70.7" cy="287.4" r="2.37" fill="#e06e4e"/><circle cx="72.1" cy="294.5" r="2.37" fill="#f7ab8a"/><circle cx="83.4" cy="317.0" r="2.37" fill="#fdd9b8"/><circle cx="72.3" cy="321.3" r="2.37" fill="#fde293"/><circle cx="186.7" cy="257.5" r="2.37" fill="#eff3ed"/><circle cx="239.6" cy="299.3" r="2.37" fill="#9fc8e4"/><circle cx="349.0" cy="277.3" r="2.37" fill="#9fc8e4"/><circle cx="435.6" cy="307.4" r="2.37" fill="#5596cc"/><circle cx="506.1" cy="289.4" r="2.37" fill="#2166ac"/><circle cx="584.1" cy="250.2" r="2.37" fill="#5596cc"/><circle cx="591.4" cy="253.3" r="2.37" fill="#5596cc"/><circle cx="591.1" cy="265.0" r="2.37" fill="#2166ac"/><circle cx="588.3" cy="267.6" r="2.37" fill="#2166ac"/><circle cx="569.1" cy="274.4" r="2.37" fill="#eff3ed"/><circle cx="575.9" cy="284.2" r="2.37" fill="#2166ac"/><circle cx="563.6" cy="285.2" r="2.37" fill="#5596cc"/><circle cx="556.7" cy="292.2" r="2.37" fill="#2166ac"/><circle cx="547.2" cy="298.9" r="2.37" fill="#5596cc"/><circle cx="499.7" cy="324.2" r="2.37" fill="#9fc8e4"/><circle cx="528.9" cy="335.9" r="2.37" fill="#5596cc"/><circle cx="458.7" cy="349.2" r="2.37" fill="#9fc8e4"/><circle cx="505.0" cy="353.4" r="2.37" fill="#5596cc"/><circle cx="512.4" cy="353.7" r="2.37" fill="#eff3ed"/><circle cx="470.3" cy="359.8" r="2.37" fill="#9fc8e4"/><circle cx="543.6" cy="306.1" r="2.37" fill="#9fc8e4"/><circle cx="572.8" cy="311.8" r="2.37" fill="#eff3ed"/><circle cx="556.1" cy="349.8" r="2.37" fill="#9fc8e4"/><circle cx="561.4" cy="353.7" r="2.37" fill="#9fc8e4"/><circle cx="539.4" cy="363.9" r="2.37" fill="#9fc8e4"/><circle cx="497.0" cy="403.4" r="2.37" fill="#5596cc"/><circle cx="512.2" cy="383.2" r="2.37" fill="#eff3ed"/><circle cx="522.6" cy="414.0" r="2.37" fill="#5596cc"/><circle cx="493.3" cy="422.1" r="2.37" fill="#9fc8e4"/><circle cx="504.8" cy="431.2" r="2.37" fill="#5596cc"/><circle cx="479.4" cy="429.0" r="2.37" fill="#9fc8e4"/><circle cx="538.6" cy="378.3" r="2.37" fill="#eff3ed"/><circle cx="413.0" cy="369.9" r="2.37" fill="#eff3ed"/><circle cx="434.1" cy="371.2" r="2.37" fill="#fde293"/><circle cx="385.6" cy="378.4" r="2.37" fill="#eff3ed"/><circle cx="427.4" cy="389.2" r="2.37" fill="#2166ac"/><circle cx="436.7" cy="390.1" r="2.37" fill="#eff3ed"/><circle cx="419.8" cy="444.1" r="2.37" fill="#e06e4e"/><circle cx="326.1" cy="387.9" r="2.37" fill="#9fc8e4"/><circle cx="324.4" cy="398.0" r="2.37" fill="#fde293"/><circle cx="375.6" cy="404.2" r="2.37" fill="#f7ab8a"/><circle cx="365.5" cy="408.7" r="2.37" fill="#f7ab8a"/><circle cx="309.3" cy="418.0" r="2.37" fill="#eff3ed"/><circle cx="282.2" cy="424.7" r="2.37" fill="#5596cc"/><circle cx="278.4" cy="424.4" r="2.37" fill="#5596cc"/><circle cx="222.8" cy="342.4" r="2.37" fill="#9fc8e4"/><circle cx="237.5" cy="406.4" r="2.37" fill="#5596cc"/><circle cx="177.0" cy="365.4" r="2.37" fill="#fde293"/><circle cx="451.9" cy="261.9" r="2.37" fill="#9fc8e4"/><circle cx="250.6" cy="504.2" r="2.28" fill="#fdd9b8"/><circle cx="99.7" cy="177.9" r="2.22" fill="#fdd9b8"/><circle cx="97.5" cy="181.6" r="2.22" fill="#eff3ed"/><circle cx="87.6" cy="186.3" r="2.22" fill="#fdd9b8"/><circle cx="72.4" cy="223.0" r="2.22" fill="#fdd9b8"/><circle cx="120.9" cy="184.4" r="2.22" fill="#fdd9b8"/><circle cx="246.4" cy="238.9" r="2.22" fill="#9fc8e4"/><circle cx="343.7" cy="201.6" r="2.22" fill="#9fc8e4"/><circle cx="352.4" cy="224.4" r="2.22" fill="#9fc8e4"/><circle cx="611.4" cy="215.9" r="2.22" fill="#5596cc"/><circle cx="577.6" cy="222.6" r="2.22" fill="#9fc8e4"/><circle cx="597.9" cy="231.2" r="2.22" fill="#5596cc"/><circle cx="62.2" cy="258.1" r="2.22" fill="#b2182b"/><circle cx="81.8" cy="287.7" r="2.22" fill="#f7ab8a"/><circle cx="97.3" cy="289.0" r="2.22" fill="#e06e4e"/><circle cx="100.3" cy="296.3" r="2.22" fill="#f7ab8a"/><circle cx="90.4" cy="307.1" r="2.22" fill="#f7ab8a"/><circle cx="69.9" cy="315.3" r="2.22" fill="#f7ab8a"/><circle cx="204.7" cy="251.9" r="2.22" fill="#eff3ed"/><circle cx="190.2" cy="274.4" r="2.22" fill="#fdd9b8"/><circle cx="167.4" cy="328.6" r="2.22" fill="#fdd9b8"/><circle cx="261.5" cy="292.1" r="2.22" fill="#eff3ed"/><circle cx="347.3" cy="324.0" r="2.22" fill="#5596cc"/><circle cx="356.7" cy="325.6" r="2.22" fill="#5596cc"/><circle cx="432.6" cy="245.6" r="2.22" fill="#2166ac"/><circle cx="436.7" cy="270.4" r="2.22" fill="#5596cc"/><circle cx="424.0" cy="277.8" r="2.22" fill="#2166ac"/><circle cx="365.9" cy="315.6" r="2.22" fill="#5596cc"/><circle cx="392.6" cy="326.2" r="2.22" fill="#9fc8e4"/><circle cx="449.3" cy="301.9" r="2.22" fill="#9fc8e4"/><circle cx="454.8" cy="319.3" r="2.22" fill="#9fc8e4"/><circle cx="332.3" cy="362.7" r="2.22" fill="#9fc8e4"/><circle cx="341.5" cy="366.9" r="2.22" fill="#9fc8e4"/><circle cx="343.0" cy="378.3" r="2.22" fill="#5596cc"/><circle cx="340.3" cy="394.6" r="2.22" fill="#eff3ed"/><circle cx="340.0" cy="402.0" r="2.22" fill="#fdd9b8"/><circle cx="358.5" cy="401.6" r="2.22" fill="#fdd9b8"/><circle cx="328.6" cy="413.4" r="2.22" fill="#fdd9b8"/><circle cx="309.6" cy="486.8" r="2.22" fill="#fde293"/><circle cx="178.5" cy="379.3" r="2.22" fill="#fdd9b8"/><circle cx="184.4" cy="418.5" r="2.22" fill="#fde293"/><circle cx="453.7" cy="281.5" r="2.22" fill="#9fc8e4"/><circle cx="514.4" cy="298.6" r="2.15" fill="#eff3ed"/><circle cx="558.6" cy="261.1" r="2.15" fill="#2166ac"/><circle cx="598.9" cy="259.7" r="2.15" fill="#2166ac"/><circle cx="571.7" cy="300.6" r="2.15" fill="#5596cc"/><circle cx="560.6" cy="290.2" r="2.15" fill="#5596cc"/><circle cx="546.7" cy="294.4" r="2.15" fill="#9fc8e4"/><circle cx="508.3" cy="323.9" r="2.15" fill="#5596cc"/><circle cx="464.1" cy="338.9" r="2.15" fill="#9fc8e4"/><circle cx="478.6" cy="345.7" r="2.15" fill="#fdd9b8"/><circle cx="475.9" cy="362.3" r="2.15" fill="#9fc8e4"/><circle cx="555.3" cy="358.4" r="2.15" fill="#eff3ed"/><circle cx="478.9" cy="373.4" r="2.15" fill="#9fc8e4"/><circle cx="478.3" cy="378.8" r="2.15" fill="#5596cc"/><circle cx="465.2" cy="387.3" r="2.15" fill="#eff3ed"/><circle cx="470.6" cy="395.1" r="2.15" fill="#eff3ed"/><circle cx="519.2" cy="406.2" r="2.15" fill="#2166ac"/><circle cx="496.7" cy="432.1" r="2.15" fill="#9fc8e4"/><circle cx="541.7" cy="483.1" r="2.15" fill="#9fc8e4"/><circle cx="392.6" cy="417.0" r="2.15" fill="#fdd9b8"/><circle cx="407.8" cy="429.9" r="2.15" fill="#b2182b"/><circle cx="424.4" cy="347.9" r="2.15" fill="#9fc8e4"/><circle cx="385.3" cy="364.8" r="2.15" fill="#5596cc"/><circle cx="393.6" cy="363.3" r="2.15" fill="#9fc8e4"/><circle cx="454.1" cy="267.8" r="2.15" fill="#5596cc"/><circle cx="98.8" cy="161.9" r="2.08" fill="#fde293"/><circle cx="77.5" cy="238.3" r="2.08" fill="#fdd9b8"/><circle cx="128.4" cy="202.7" r="2.08" fill="#eff3ed"/><circle cx="137.0" cy="199.6" r="2.08" fill="#eff3ed"/><circle cx="152.1" cy="200.4" r="2.08" fill="#eff3ed"/><circle cx="303.4" cy="196.1" r="2.08" fill="#5596cc"/><circle cx="431.1" cy="233.9" r="2.08" fill="#2166ac"/><circle cx="585.5" cy="224.7" r="2.08" fill="#eff3ed"/><circle cx="583.0" cy="234.0" r="2.08" fill="#eff3ed"/><circle cx="598.8" cy="235.9" r="2.08" fill="#2166ac"/><circle cx="577.5" cy="239.3" r="2.08" fill="#9fc8e4"/><circle cx="79.3" cy="271.9" r="2.08" fill="#f7ab8a"/><circle cx="65.2" cy="283.1" r="2.08" fill="#b2182b"/><circle cx="153.0" cy="275.3" r="2.08" fill="#9fc8e4"/><circle cx="169.6" cy="245.3" r="2.08" fill="#9fc8e4"/><circle cx="195.6" cy="245.6" r="2.08" fill="#f7ab8a"/><circle cx="248.3" cy="266.7" r="2.08" fill="#5596cc"/><circle cx="221.0" cy="325.9" r="2.08" fill="#9fc8e4"/><circle cx="275.3" cy="246.2" r="2.08" fill="#eff3ed"/><circle cx="339.1" cy="292.1" r="2.08" fill="#5596cc"/><circle cx="328.7" cy="299.3" r="2.08" fill="#5596cc"/><circle cx="397.8" cy="243.7" r="2.08" fill="#9fc8e4"/><circle cx="373.0" cy="253.9" r="2.08" fill="#5596cc"/><circle cx="400.9" cy="257.8" r="2.08" fill="#5596cc"/><circle cx="416.0" cy="261.6" r="2.08" fill="#9fc8e4"/><circle cx="427.4" cy="269.6" r="2.08" fill="#5596cc"/><circle cx="381.6" cy="267.6" r="2.08" fill="#9fc8e4"/><circle cx="447.4" cy="283.4" r="2.08" fill="#5596cc"/><circle cx="377.8" cy="283.4" r="2.08" fill="#9fc8e4"/><circle cx="427.0" cy="303.0" r="2.08" fill="#2166ac"/><circle cx="438.1" cy="292.6" r="2.08" fill="#5596cc"/><circle cx="420.7" cy="312.9" r="2.08" fill="#2166ac"/><circle cx="428.1" cy="312.1" r="2.08" fill="#2166ac"/><circle cx="353.8" cy="358.0" r="2.08" fill="#5596cc"/><circle cx="364.7" cy="369.9" r="2.08" fill="#9fc8e4"/><circle cx="360.1" cy="373.4" r="2.08" fill="#9fc8e4"/><circle cx="355.9" cy="383.6" r="2.08" fill="#9fc8e4"/><circle cx="349.0" cy="397.1" r="2.08" fill="#eff3ed"/><circle cx="357.8" cy="428.3" r="2.08" fill="#fdd9b8"/><circle cx="353.6" cy="466.9" r="2.08" fill="#fde293"/><circle cx="341.5" cy="469.4" r="2.08" fill="#fde293"/><circle cx="271.1" cy="388.2" r="2.08" fill="#f7ab8a"/><circle cx="131.9" cy="342.3" r="2.08" fill="#fdd9b8"/><circle cx="176.6" cy="420.3" r="2.08" fill="#fde293"/><circle cx="474.8" cy="253.9" r="2.04" fill="#2166ac"/><circle cx="460.0" cy="274.1" r="2.04" fill="#9fc8e4"/><circle cx="471.9" cy="273.6" r="2.04" fill="#5596cc"/><circle cx="466.7" cy="278.9" r="2.04" fill="#eff3ed"/><circle cx="466.1" cy="286.7" r="2.04" fill="#2166ac"/><circle cx="486.7" cy="284.7" r="2.04" fill="#2166ac"/><circle cx="478.3" cy="293.9" r="2.04" fill="#5596cc"/><circle cx="516.1" cy="268.6" r="2.04" fill="#2166ac"/><circle cx="565.9" cy="254.4" r="2.04" fill="#9fc8e4"/><circle cx="571.7" cy="244.8" r="2.04" fill="#5596cc"/><circle cx="579.2" cy="254.4" r="2.04" fill="#9fc8e4"/><circle cx="587.4" cy="258.7" r="2.04" fill="#2166ac"/><circle cx="575.3" cy="295.0" r="2.04" fill="#2166ac"/><circle cx="559.7" cy="280.9" r="2.04" fill="#5596cc"/><circle cx="514.4" cy="331.1" r="2.04" fill="#9fc8e4"/><circle cx="524.2" cy="337.3" r="2.04" fill="#9fc8e4"/><circle cx="481.1" cy="336.2" r="2.04" fill="#5596cc"/><circle cx="494.7" cy="356.2" r="2.04" fill="#5596cc"/><circle cx="567.2" cy="310.0" r="2.04" fill="#5596cc"/><circle cx="537.8" cy="317.6" r="2.04" fill="#5596cc"/><circle cx="536.4" cy="322.2" r="2.04" fill="#9fc8e4"/><circle cx="569.1" cy="348.4" r="2.04" fill="#5596cc"/><circle cx="537.6" cy="351.2" r="2.04" fill="#9fc8e4"/><circle cx="476.9" cy="386.2" r="2.04" fill="#9fc8e4"/><circle cx="457.8" cy="390.1" r="2.04" fill="#eff3ed"/><circle cx="480.6" cy="402.9" r="2.04" fill="#9fc8e4"/><circle cx="501.7" cy="376.8" r="2.04" fill="#9fc8e4"/><circle cx="515.3" cy="424.2" r="2.04" fill="#eff3ed"/><circle cx="532.8" cy="383.6" r="2.04" fill="#eff3ed"/><circle cx="513.9" cy="439.1" r="2.04" fill="#eff3ed"/><circle cx="540.8" cy="474.2" r="2.04" fill="#9fc8e4"/><circle cx="451.1" cy="374.8" r="2.04" fill="#9fc8e4"/><circle cx="438.1" cy="380.3" r="2.04" fill="#fdd9b8"/><circle cx="399.1" cy="392.7" r="2.04" fill="#f7ab8a"/><circle cx="436.3" cy="401.2" r="2.04" fill="#9fc8e4"/><circle cx="440.9" cy="400.7" r="2.04" fill="#eff3ed"/><circle cx="438.9" cy="416.8" r="2.04" fill="#e06e4e"/><circle cx="434.4" cy="426.2" r="2.04" fill="#f7ab8a"/><circle cx="428.9" cy="443.1" r="2.04" fill="#9fc8e4"/><circle cx="394.7" cy="331.7" r="2.04" fill="#5596cc"/><circle cx="450.3" cy="339.2" r="2.04" fill="#9fc8e4"/><circle cx="446.7" cy="345.9" r="2.04" fill="#9fc8e4"/><circle cx="399.4" cy="340.1" r="2.04" fill="#5596cc"/><circle cx="414.2" cy="342.0" r="2.04" fill="#9fc8e4"/><circle cx="427.4" cy="342.0" r="2.04" fill="#9fc8e4"/><circle cx="434.8" cy="350.1" r="2.04" fill="#2166ac"/><circle cx="399.1" cy="357.6" r="2.04" fill="#5596cc"/><circle cx="415.3" cy="356.2" r="2.04" fill="#9fc8e4"/><circle cx="92.2" cy="331.4" r="2.04" fill="#9fc8e4"/><circle cx="109.9" cy="160.7" r="1.93" fill="#fde293"/><circle cx="106.4" cy="161.6" r="1.93" fill="#fdd9b8"/><circle cx="98.8" cy="174.9" r="1.93" fill="#fdd9b8"/><circle cx="88.1" cy="209.0" r="1.93" fill="#eff3ed"/><circle cx="86.4" cy="210.0" r="1.93" fill="#eff3ed"/><circle cx="152.6" cy="196.2" r="1.93" fill="#eff3ed"/><circle cx="145.2" cy="232.7" r="1.93" fill="#fdd9b8"/><circle cx="208.6" cy="195.8" r="1.93" fill="#2166ac"/><circle cx="347.3" cy="224.5" r="1.93" fill="#eff3ed"/><circle cx="359.0" cy="230.0" r="1.93" fill="#9fc8e4"/><circle cx="328.9" cy="235.5" r="1.93" fill="#9fc8e4"/><circle cx="552.9" cy="235.3" r="1.93" fill="#5596cc"/><circle cx="608.0" cy="220.1" r="1.93" fill="#5596cc"/><circle cx="574.5" cy="219.9" r="1.93" fill="#5596cc"/><circle cx="600.0" cy="238.9" r="1.93" fill="#2166ac"/><circle cx="155.1" cy="247.7" r="1.93" fill="#fde293"/><circle cx="96.4" cy="273.0" r="1.93" fill="#fdd9b8"/><circle cx="127.9" cy="272.9" r="1.93" fill="#9fc8e4"/><circle cx="188.4" cy="253.3" r="1.93" fill="#fdd9b8"/><circle cx="172.4" cy="259.6" r="1.93" fill="#eff3ed"/><circle cx="227.9" cy="261.8" r="1.93" fill="#9fc8e4"/><circle cx="198.1" cy="282.4" r="1.93" fill="#9fc8e4"/><circle cx="216.7" cy="280.6" r="1.93" fill="#5596cc"/><circle cx="253.6" cy="288.9" r="1.93" fill="#5596cc"/><circle cx="195.9" cy="305.8" r="1.93" fill="#5596cc"/><circle cx="342.2" cy="243.7" r="1.93" fill="#eff3ed"/><circle cx="332.7" cy="260.0" r="1.93" fill="#5596cc"/><circle cx="274.1" cy="283.1" r="1.93" fill="#5596cc"/><circle cx="338.7" cy="283.9" r="1.93" fill="#5596cc"/><circle cx="348.0" cy="292.1" r="1.93" fill="#5596cc"/><circle cx="303.4" cy="295.4" r="1.93" fill="#5596cc"/><circle cx="313.9" cy="300.7" r="1.93" fill="#9fc8e4"/><circle cx="322.2" cy="304.9" r="1.93" fill="#5596cc"/><circle cx="328.0" cy="303.9" r="1.93" fill="#5596cc"/><circle cx="270.8" cy="305.3" r="1.93" fill="#fdd9b8"/><circle cx="335.9" cy="328.9" r="1.93" fill="#9fc8e4"/><circle cx="428.6" cy="249.6" r="1.93" fill="#2166ac"/><circle cx="434.1" cy="256.6" r="1.93" fill="#2166ac"/><circle cx="448.9" cy="251.9" r="1.93" fill="#eff3ed"/><circle cx="380.9" cy="254.5" r="1.93" fill="#5596cc"/><circle cx="387.6" cy="247.7" r="1.93" fill="#9fc8e4"/><circle cx="373.8" cy="260.7" r="1.93" fill="#9fc8e4"/><circle cx="425.6" cy="261.0" r="1.93" fill="#2166ac"/><circle cx="424.0" cy="271.9" r="1.93" fill="#2166ac"/><circle cx="362.2" cy="264.4" r="1.93" fill="#9fc8e4"/><circle cx="407.7" cy="275.6" r="1.93" fill="#5596cc"/><circle cx="418.5" cy="277.8" r="1.93" fill="#2166ac"/><circle cx="424.7" cy="283.0" r="1.93" fill="#5596cc"/><circle cx="384.9" cy="283.0" r="1.93" fill="#9fc8e4"/><circle cx="409.3" cy="284.0" r="1.93" fill="#eff3ed"/><circle cx="390.7" cy="297.3" r="1.93" fill="#9fc8e4"/><circle cx="411.9" cy="297.0" r="1.93" fill="#5596cc"/><circle cx="404.7" cy="299.7" r="1.93" fill="#fde293"/><circle cx="402.5" cy="302.5" r="1.93" fill="#fde293"/><circle cx="409.3" cy="304.4" r="1.93" fill="#fde293"/><circle cx="446.2" cy="293.3" r="1.93" fill="#5596cc"/><circle cx="423.4" cy="308.1" r="1.93" fill="#5596cc"/><circle cx="424.7" cy="316.3" r="1.93" fill="#2166ac"/><circle cx="414.8" cy="314.1" r="1.93" fill="#9fc8e4"/><circle cx="402.2" cy="312.1" r="1.93" fill="#eff3ed"/><circle cx="389.3" cy="308.9" r="1.93" fill="#9fc8e4"/><circle cx="432.6" cy="322.7" r="1.93" fill="#9fc8e4"/><circle cx="450.1" cy="307.0" r="1.93" fill="#9fc8e4"/><circle cx="474.8" cy="256.7" r="1.93" fill="#2166ac"/><circle cx="464.1" cy="273.6" r="1.93" fill="#5596cc"/><circle cx="458.3" cy="283.9" r="1.93" fill="#5596cc"/><circle cx="482.0" cy="289.4" r="1.93" fill="#5596cc"/><circle cx="515.0" cy="293.6" r="1.93" fill="#9fc8e4"/><circle cx="524.8" cy="268.0" r="1.93" fill="#5596cc"/><circle cx="551.1" cy="258.0" r="1.93" fill="#5596cc"/><circle cx="533.1" cy="266.7" r="1.93" fill="#9fc8e4"/><circle cx="591.9" cy="241.1" r="1.93" fill="#2166ac"/><circle cx="537.4" cy="288.0" r="1.93" fill="#9fc8e4"/><circle cx="515.3" cy="338.1" r="1.93" fill="#9fc8e4"/><circle cx="488.0" cy="423.4" r="1.93" fill="#5596cc"/><circle cx="386.9" cy="394.8" r="1.93" fill="#9fc8e4"/><circle cx="414.1" cy="398.8" r="1.93" fill="#b2182b"/><circle cx="410.3" cy="403.8" r="1.93" fill="#b2182b"/><circle cx="420.6" cy="401.6" r="1.93" fill="#b2182b"/><circle cx="425.0" cy="397.9" r="1.93" fill="#fde293"/><circle cx="390.0" cy="402.0" r="1.93" fill="#e06e4e"/><circle cx="392.0" cy="407.3" r="1.93" fill="#f7ab8a"/><circle cx="419.1" cy="433.7" r="1.93" fill="#b2182b"/><circle cx="387.8" cy="427.9" r="1.93" fill="#e06e4e"/><circle cx="389.8" cy="344.2" r="1.93" fill="#9fc8e4"/><circle cx="395.2" cy="343.9" r="1.93" fill="#2166ac"/><circle cx="424.1" cy="353.9" r="1.93" fill="#fdd9b8"/><circle cx="438.7" cy="360.9" r="1.93" fill="#5596cc"/><circle cx="323.0" cy="335.0" r="1.93" fill="#5596cc"/><circle cx="351.3" cy="334.9" r="1.93" fill="#5596cc"/><circle cx="332.1" cy="339.5" r="1.93" fill="#5596cc"/><circle cx="300.0" cy="339.8" r="1.93" fill="#9fc8e4"/><circle cx="367.6" cy="349.0" r="1.93" fill="#9fc8e4"/><circle cx="365.9" cy="356.5" r="1.93" fill="#eff3ed"/><circle cx="297.3" cy="373.9" r="1.93" fill="#fde293"/><circle cx="287.9" cy="392.1" r="1.93" fill="#e06e4e"/><circle cx="317.0" cy="362.7" r="1.93" fill="#eff3ed"/><circle cx="341.2" cy="358.7" r="1.93" fill="#fde293"/><circle cx="314.8" cy="376.4" r="1.93" fill="#5596cc"/><circle cx="322.7" cy="374.9" r="1.93" fill="#2166ac"/><circle cx="345.6" cy="386.0" r="1.93" fill="#eff3ed"/><circle cx="331.0" cy="389.9" r="1.93" fill="#9fc8e4"/><circle cx="315.3" cy="387.2" r="1.93" fill="#fde293"/><circle cx="358.1" cy="409.0" r="1.93" fill="#e06e4e"/><circle cx="327.1" cy="421.6" r="1.93" fill="#9fc8e4"/><circle cx="318.1" cy="428.4" r="1.93" fill="#fdd9b8"/><circle cx="368.4" cy="434.3" r="1.93" fill="#fdd9b8"/><circle cx="318.5" cy="448.4" r="1.93" fill="#f7ab8a"/><circle cx="315.3" cy="451.7" r="1.93" fill="#f7ab8a"/><circle cx="358.5" cy="442.8" r="1.93" fill="#f7ab8a"/><circle cx="293.8" cy="460.6" r="1.93" fill="#fdd9b8"/><circle cx="307.3" cy="461.7" r="1.93" fill="#fdd9b8"/><circle cx="317.8" cy="502.9" r="1.93" fill="#b2182b"/><circle cx="218.2" cy="349.9" r="1.93" fill="#5596cc"/><circle cx="246.8" cy="357.6" r="1.93" fill="#b2182b"/><circle cx="210.4" cy="405.0" r="1.93" fill="#e06e4e"/><circle cx="254.8" cy="401.0" r="1.93" fill="#f7ab8a"/><circle cx="192.0" cy="470.1" r="1.93" fill="#9fc8e4"/><circle cx="119.4" cy="459.7" r="1.93" fill="#fdd9b8"/><circle cx="167.0" cy="496.4" r="1.93" fill="#eff3ed"/><circle cx="458.9" cy="246.7" r="1.82" fill="#9fc8e4"/><circle cx="459.0" cy="254.8" r="1.82" fill="#eff3ed"/><circle cx="471.4" cy="254.4" r="1.82" fill="#5596cc"/><circle cx="458.9" cy="289.4" r="1.82" fill="#9fc8e4"/><circle cx="493.9" cy="291.9" r="1.82" fill="#2166ac"/><circle cx="495.3" cy="296.4" r="1.82" fill="#2166ac"/><circle cx="481.7" cy="298.9" r="1.82" fill="#2166ac"/><circle cx="549.4" cy="251.1" r="1.82" fill="#2166ac"/><circle cx="550.0" cy="275.0" r="1.82" fill="#5596cc"/><circle cx="557.8" cy="286.1" r="1.82" fill="#2166ac"/><circle cx="542.2" cy="283.0" r="1.82" fill="#9fc8e4"/><circle cx="551.4" cy="295.0" r="1.82" fill="#5596cc"/><circle cx="613.7" cy="257.2" r="1.82" fill="#eff3ed"/><circle cx="482.2" cy="304.8" r="1.82" fill="#2166ac"/><circle cx="492.0" cy="312.2" r="1.82" fill="#5596cc"/><circle cx="473.9" cy="330.7" r="1.82" fill="#2166ac"/><circle cx="484.2" cy="331.4" r="1.82" fill="#9fc8e4"/><circle cx="475.9" cy="338.1" r="1.82" fill="#5596cc"/><circle cx="518.7" cy="353.7" r="1.82" fill="#9fc8e4"/><circle cx="510.0" cy="361.4" r="1.82" fill="#eff3ed"/><circle cx="481.7" cy="368.1" r="1.82" fill="#9fc8e4"/><circle cx="566.7" cy="307.0" r="1.82" fill="#5596cc"/><circle cx="572.2" cy="341.4" r="1.82" fill="#5596cc"/><circle cx="536.9" cy="344.2" r="1.82" fill="#9fc8e4"/><circle cx="530.6" cy="352.6" r="1.82" fill="#9fc8e4"/><circle cx="560.2" cy="359.0" r="1.82" fill="#9fc8e4"/><circle cx="541.7" cy="359.6" r="1.82" fill="#9fc8e4"/><circle cx="456.1" cy="383.4" r="1.82" fill="#eff3ed"/><circle cx="468.3" cy="390.7" r="1.82" fill="#9fc8e4"/><circle cx="466.7" cy="399.2" r="1.82" fill="#eff3ed"/><circle cx="488.9" cy="404.3" r="1.82" fill="#2166ac"/><circle cx="501.3" cy="399.8" r="1.82" fill="#9fc8e4"/><circle cx="527.8" cy="390.1" r="1.82" fill="#f7ab8a"/><circle cx="502.8" cy="369.6" r="1.82" fill="#9fc8e4"/><circle cx="463.7" cy="372.1" r="1.82" fill="#9fc8e4"/><circle cx="506.1" cy="406.8" r="1.82" fill="#fdd9b8"/><circle cx="512.4" cy="410.7" r="1.82" fill="#9fc8e4"/><circle cx="500.9" cy="423.1" r="1.82" fill="#eff3ed"/><circle cx="473.3" cy="428.1" r="1.82" fill="#9fc8e4"/><circle cx="540.6" cy="369.7" r="1.82" fill="#9fc8e4"/><circle cx="527.0" cy="444.7" r="1.82" fill="#fdd9b8"/><circle cx="390.0" cy="369.9" r="1.82" fill="#5596cc"/><circle cx="385.3" cy="406.8" r="1.82" fill="#b2182b"/><circle cx="413.3" cy="418.2" r="1.82" fill="#f7ab8a"/><circle cx="419.1" cy="429.0" r="1.82" fill="#e06e4e"/><circle cx="385.8" cy="440.8" r="1.82" fill="#fdd9b8"/><circle cx="400.3" cy="444.4" r="1.82" fill="#b2182b"/><circle cx="426.9" cy="439.4" r="1.82" fill="#b2182b"/><circle cx="411.4" cy="455.8" r="1.82" fill="#e06e4e"/><circle cx="430.2" cy="333.1" r="1.82" fill="#9fc8e4"/><circle cx="427.2" cy="365.7" r="1.82" fill="#eff3ed"/><circle cx="421.9" cy="367.9" r="1.82" fill="#f7ab8a"/><circle cx="110.1" cy="201.6" r="1.78" fill="#fdd9b8"/><circle cx="193.5" cy="214.1" r="1.78" fill="#5596cc"/><circle cx="281.8" cy="195.8" r="1.78" fill="#9fc8e4"/><circle cx="288.1" cy="213.9" r="1.78" fill="#2166ac"/><circle cx="349.8" cy="195.6" r="1.78" fill="#5596cc"/><circle cx="364.0" cy="207.8" r="1.78" fill="#5596cc"/><circle cx="422.5" cy="213.7" r="1.78" fill="#9fc8e4"/><circle cx="433.9" cy="218.6" r="1.78" fill="#2166ac"/><circle cx="430.7" cy="227.6" r="1.78" fill="#5596cc"/><circle cx="440.1" cy="227.6" r="1.78" fill="#2166ac"/><circle cx="65.9" cy="244.9" r="1.78" fill="#fde293"/><circle cx="112.1" cy="291.0" r="1.78" fill="#eff3ed"/><circle cx="211.1" cy="296.0" r="1.78" fill="#2166ac"/><circle cx="309.9" cy="250.1" r="1.78" fill="#eff3ed"/><circle cx="331.3" cy="250.8" r="1.78" fill="#fdd9b8"/><circle cx="345.3" cy="251.9" r="1.78" fill="#5596cc"/><circle cx="357.2" cy="261.8" r="1.78" fill="#eff3ed"/><circle cx="339.1" cy="271.9" r="1.78" fill="#eff3ed"/><circle cx="343.9" cy="273.3" r="1.78" fill="#2166ac"/><circle cx="277.8" cy="300.7" r="1.78" fill="#eff3ed"/><circle cx="317.5" cy="327.7" r="1.78" fill="#5596cc"/><circle cx="335.6" cy="324.7" r="1.78" fill="#2166ac"/><circle cx="369.6" cy="243.7" r="1.78" fill="#5596cc"/><circle cx="416.9" cy="246.7" r="1.78" fill="#2166ac"/><circle cx="434.8" cy="251.1" r="1.78" fill="#2166ac"/><circle cx="429.0" cy="256.6" r="1.78" fill="#2166ac"/><circle cx="397.0" cy="254.5" r="1.78" fill="#5596cc"/><circle cx="379.7" cy="260.7" r="1.78" fill="#5596cc"/><circle cx="383.4" cy="260.4" r="1.78" fill="#5596cc"/><circle cx="427.0" cy="264.4" r="1.78" fill="#2166ac"/><circle cx="409.2" cy="272.1" r="1.78" fill="#5596cc"/><circle cx="403.9" cy="290.4" r="1.78" fill="#9fc8e4"/><circle cx="388.1" cy="293.3" r="1.78" fill="#9fc8e4"/><circle cx="441.8" cy="307.0" r="1.78" fill="#9fc8e4"/><circle cx="436.6" cy="316.3" r="1.78" fill="#2166ac"/><circle cx="365.2" cy="307.4" r="1.78" fill="#eff3ed"/><circle cx="361.5" cy="326.9" r="1.78" fill="#5596cc"/><circle cx="335.3" cy="335.3" r="1.78" fill="#5596cc"/><circle cx="309.3" cy="343.0" r="1.78" fill="#2166ac"/><circle cx="298.8" cy="352.7" r="1.78" fill="#f7ab8a"/><circle cx="286.4" cy="368.7" r="1.78" fill="#9fc8e4"/><circle cx="292.9" cy="371.6" r="1.78" fill="#f7ab8a"/><circle cx="288.9" cy="419.5" r="1.78" fill="#b2182b"/><circle cx="361.9" cy="425.4" r="1.78" fill="#fdd9b8"/><circle cx="369.9" cy="430.6" r="1.78" fill="#fde293"/><circle cx="348.4" cy="450.6" r="1.78" fill="#f7ab8a"/><circle cx="345.6" cy="472.4" r="1.78" fill="#f7ab8a"/><circle cx="297.9" cy="469.7" r="1.78" fill="#9fc8e4"/><circle cx="210.1" cy="365.9" r="1.78" fill="#eff3ed"/><circle cx="193.8" cy="402.0" r="1.78" fill="#9fc8e4"/><circle cx="126.7" cy="390.6" r="1.78" fill="#2166ac"/><circle cx="257.0" cy="414.8" r="1.78" fill="#f7ab8a"/><circle cx="453.9" cy="288.1" r="1.78" fill="#5596cc"/><circle cx="466.1" cy="255.2" r="1.71" fill="#eff3ed"/><circle cx="482.0" cy="277.0" r="1.71" fill="#5596cc"/><circle cx="476.4" cy="277.8" r="1.71" fill="#9fc8e4"/><circle cx="470.6" cy="279.1" r="1.71" fill="#9fc8e4"/><circle cx="462.4" cy="280.6" r="1.71" fill="#9fc8e4"/><circle cx="455.6" cy="283.9" r="1.71" fill="#5596cc"/><circle cx="492.2" cy="285.0" r="1.71" fill="#5596cc"/><circle cx="472.4" cy="293.9" r="1.71" fill="#2166ac"/><circle cx="488.3" cy="291.7" r="1.71" fill="#5596cc"/><circle cx="487.8" cy="295.0" r="1.71" fill="#5596cc"/><circle cx="461.7" cy="295.6" r="1.71" fill="#2166ac"/><circle cx="505.9" cy="293.9" r="1.71" fill="#5596cc"/><circle cx="511.3" cy="287.0" r="1.71" fill="#9fc8e4"/><circle cx="516.9" cy="275.9" r="1.71" fill="#eff3ed"/><circle cx="521.9" cy="277.7" r="1.71" fill="#eff3ed"/><circle cx="533.1" cy="253.3" r="1.71" fill="#5596cc"/><circle cx="546.9" cy="262.8" r="1.71" fill="#eff3ed"/><circle cx="583.3" cy="244.1" r="1.71" fill="#fdd9b8"/><circle cx="532.0" cy="280.6" r="1.71" fill="#e06e4e"/><circle cx="532.2" cy="291.9" r="1.71" fill="#b2182b"/><circle cx="461.1" cy="317.9" r="1.71" fill="#5596cc"/><circle cx="501.1" cy="303.1" r="1.71" fill="#5596cc"/><circle cx="501.9" cy="310.7" r="1.71" fill="#9fc8e4"/><circle cx="508.1" cy="309.2" r="1.71" fill="#9fc8e4"/><circle cx="521.7" cy="305.3" r="1.71" fill="#eff3ed"/><circle cx="523.3" cy="303.1" r="1.71" fill="#9fc8e4"/><circle cx="493.0" cy="320.6" r="1.71" fill="#2166ac"/><circle cx="460.0" cy="327.0" r="1.71" fill="#5596cc"/><circle cx="470.0" cy="343.3" r="1.71" fill="#5596cc"/><circle cx="464.8" cy="348.7" r="1.71" fill="#5596cc"/><circle cx="500.0" cy="356.4" r="1.71" fill="#2166ac"/><circle cx="523.9" cy="347.8" r="1.71" fill="#9fc8e4"/><circle cx="512.6" cy="366.2" r="1.71" fill="#fde293"/><circle cx="468.1" cy="367.0" r="1.71" fill="#eff3ed"/><circle cx="556.1" cy="342.9" r="1.71" fill="#fdd9b8"/><circle cx="555.3" cy="354.0" r="1.71" fill="#9fc8e4"/><circle cx="531.1" cy="363.1" r="1.71" fill="#9fc8e4"/><circle cx="482.8" cy="393.2" r="1.71" fill="#fdd9b8"/><circle cx="476.1" cy="389.6" r="1.71" fill="#9fc8e4"/><circle cx="466.7" cy="381.2" r="1.71" fill="#eff3ed"/><circle cx="517.8" cy="379.8" r="1.71" fill="#f7ab8a"/><circle cx="494.8" cy="380.7" r="1.71" fill="#5596cc"/><circle cx="460.0" cy="371.2" r="1.71" fill="#9fc8e4"/><circle cx="520.0" cy="417.9" r="1.71" fill="#9fc8e4"/><circle cx="491.7" cy="415.3" r="1.71" fill="#eff3ed"/><circle cx="497.0" cy="416.0" r="1.71" fill="#fdd9b8"/><circle cx="503.7" cy="418.8" r="1.71" fill="#fdd9b8"/><circle cx="498.1" cy="427.0" r="1.71" fill="#9fc8e4"/><circle cx="489.7" cy="432.1" r="1.71" fill="#eff3ed"/><circle cx="476.1" cy="425.7" r="1.71" fill="#9fc8e4"/><circle cx="545.9" cy="370.9" r="1.71" fill="#eff3ed"/><circle cx="402.0" cy="370.9" r="1.71" fill="#fdd9b8"/><circle cx="412.4" cy="381.0" r="1.71" fill="#f7ab8a"/><circle cx="389.8" cy="391.0" r="1.71" fill="#fde293"/><circle cx="415.6" cy="392.3" r="1.71" fill="#b2182b"/><circle cx="383.0" cy="330.1" r="1.71" fill="#2166ac"/><circle cx="434.7" cy="355.1" r="1.71" fill="#5596cc"/><circle cx="438.6" cy="356.8" r="1.71" fill="#b2182b"/><circle cx="430.6" cy="360.1" r="1.71" fill="#2166ac"/><circle cx="433.1" cy="360.9" r="1.71" fill="#2166ac"/><circle cx="419.7" cy="363.4" r="1.71" fill="#b2182b"/><circle cx="414.8" cy="366.1" r="1.71" fill="#eff3ed"/><circle cx="330.4" cy="501.8" r="1.71" fill="#b2182b"/><circle cx="313.3" cy="494.0" r="1.71" fill="#b2182b"/><circle cx="270.0" cy="411.6" r="1.71" fill="#b2182b"/><circle cx="275.6" cy="418.2" r="1.71" fill="#eff3ed"/><circle cx="132.9" cy="190.0" r="1.63" fill="#9fc8e4"/><circle cx="138.5" cy="212.8" r="1.63" fill="#5596cc"/><circle cx="327.3" cy="215.2" r="1.63" fill="#eff3ed"/><circle cx="465.5" cy="214.6" r="1.63" fill="#eff3ed"/><circle cx="474.4" cy="234.1" r="1.63" fill="#2166ac"/><circle cx="65.9" cy="240.7" r="1.63" fill="#f7ab8a"/><circle cx="101.0" cy="292.6" r="1.63" fill="#fde293"/><circle cx="259.0" cy="247.4" r="1.63" fill="#5596cc"/><circle cx="345.3" cy="308.6" r="1.63" fill="#5596cc"/><circle cx="393.8" cy="243.0" r="1.63" fill="#9fc8e4"/><circle cx="416.0" cy="241.2" r="1.63" fill="#2166ac"/><circle cx="425.3" cy="242.5" r="1.63" fill="#2166ac"/><circle cx="415.1" cy="248.9" r="1.63" fill="#2166ac"/><circle cx="428.1" cy="253.3" r="1.63" fill="#2166ac"/><circle cx="361.8" cy="267.9" r="1.63" fill="#9fc8e4"/><circle cx="361.5" cy="275.3" r="1.63" fill="#9fc8e4"/><circle cx="420.4" cy="284.0" r="1.63" fill="#5596cc"/><circle cx="418.1" cy="284.9" r="1.63" fill="#5596cc"/><circle cx="430.5" cy="296.7" r="1.63" fill="#2166ac"/><circle cx="403.0" cy="315.3" r="1.63" fill="#2166ac"/><circle cx="391.6" cy="320.3" r="1.63" fill="#5596cc"/><circle cx="397.5" cy="323.3" r="1.63" fill="#2166ac"/><circle cx="383.4" cy="324.7" r="1.63" fill="#fde293"/><circle cx="377.8" cy="328.9" r="1.63" fill="#eff3ed"/><circle cx="444.7" cy="326.7" r="1.63" fill="#5596cc"/><circle cx="454.8" cy="297.0" r="1.63" fill="#2166ac"/><circle cx="453.3" cy="303.0" r="1.63" fill="#2166ac"/><circle cx="292.4" cy="357.6" r="1.63" fill="#fde293"/><circle cx="280.7" cy="382.7" r="1.63" fill="#eff3ed"/><circle cx="295.9" cy="413.4" r="1.63" fill="#fdd9b8"/><circle cx="301.8" cy="417.1" r="1.63" fill="#b2182b"/><circle cx="347.7" cy="423.8" r="1.63" fill="#eff3ed"/><circle cx="349.9" cy="464.3" r="1.63" fill="#fdd9b8"/><circle cx="331.6" cy="475.1" r="1.63" fill="#b2182b"/><circle cx="327.4" cy="484.0" r="1.63" fill="#b2182b"/><circle cx="330.1" cy="486.9" r="1.63" fill="#fdd9b8"/><circle cx="237.9" cy="364.2" r="1.63" fill="#5596cc"/><circle cx="249.6" cy="369.4" r="1.63" fill="#fde293"/><circle cx="215.6" cy="412.9" r="1.63" fill="#f7ab8a"/><circle cx="467.8" cy="258.1" r="1.59" fill="#eff3ed"/><circle cx="497.0" cy="290.9" r="1.59" fill="#2166ac"/><circle cx="501.4" cy="297.2" r="1.59" fill="#5596cc"/><circle cx="547.4" cy="251.9" r="1.59" fill="#5596cc"/><circle cx="555.6" cy="255.0" r="1.59" fill="#2166ac"/><circle cx="552.8" cy="263.9" r="1.59" fill="#5596cc"/><circle cx="553.1" cy="267.2" r="1.59" fill="#fde293"/><circle cx="556.3" cy="277.2" r="1.59" fill="#eff3ed"/><circle cx="553.0" cy="280.8" r="1.59" fill="#fdd9b8"/><circle cx="545.9" cy="285.3" r="1.59" fill="#5596cc"/><circle cx="541.9" cy="289.7" r="1.59" fill="#eff3ed"/><circle cx="471.1" cy="307.6" r="1.59" fill="#2166ac"/><circle cx="487.0" cy="310.0" r="1.59" fill="#5596cc"/><circle cx="483.0" cy="312.0" r="1.59" fill="#5596cc"/><circle cx="465.6" cy="315.9" r="1.59" fill="#2166ac"/><circle cx="520.0" cy="308.9" r="1.59" fill="#eff3ed"/><circle cx="526.1" cy="312.8" r="1.59" fill="#9fc8e4"/><circle cx="427.6" cy="330.3" r="1.59" fill="#eff3ed"/><circle cx="155.3" cy="485.0" r="1.57" fill="#eff3ed"/><circle cx="105.2" cy="201.4" r="1.48" fill="#fdd9b8"/><circle cx="368.4" cy="251.4" r="1.48" fill="#2166ac"/><circle cx="466.9" cy="283.0" r="1.48" fill="#9fc8e4"/><circle cx="472.4" cy="286.7" r="1.48" fill="#5596cc"/><circle cx="464.4" cy="286.1" r="1.48" fill="#5596cc"/><circle cx="486.7" cy="287.2" r="1.48" fill="#2166ac"/><circle cx="477.8" cy="296.7" r="1.48" fill="#5596cc"/><circle cx="473.9" cy="297.2" r="1.48" fill="#2166ac"/><circle cx="477.8" cy="300.6" r="1.48" fill="#2166ac"/><circle cx="458.3" cy="296.1" r="1.48" fill="#2166ac"/><circle cx="456.1" cy="298.9" r="1.48" fill="#2166ac"/><circle cx="461.7" cy="299.2" r="1.48" fill="#5596cc"/><circle cx="529.2" cy="287.8" r="1.48" fill="#5596cc"/><circle cx="549.8" cy="263.0" r="1.48" fill="#9fc8e4"/><circle cx="573.3" cy="245.9" r="1.48" fill="#9fc8e4"/><circle cx="545.6" cy="277.4" r="1.48" fill="#9fc8e4"/><circle cx="552.8" cy="278.6" r="1.48" fill="#5596cc"/><circle cx="532.0" cy="296.7" r="1.48" fill="#eff3ed"/><circle cx="461.7" cy="303.7" r="1.48" fill="#2166ac"/><circle cx="473.3" cy="303.7" r="1.48" fill="#5596cc"/><circle cx="465.9" cy="307.0" r="1.48" fill="#5596cc"/><circle cx="468.6" cy="310.9" r="1.48" fill="#2166ac"/><circle cx="461.7" cy="321.4" r="1.48" fill="#5596cc"/><circle cx="455.6" cy="323.1" r="1.48" fill="#9fc8e4"/><circle cx="489.4" cy="351.4" r="1.48" fill="#b2182b"/><circle cx="516.1" cy="366.2" r="1.48" fill="#fdd9b8"/><circle cx="531.1" cy="344.2" r="1.48" fill="#eff3ed"/><circle cx="533.9" cy="347.6" r="1.48" fill="#eff3ed"/><circle cx="474.8" cy="383.4" r="1.48" fill="#fdd9b8"/><circle cx="515.6" cy="369.9" r="1.48" fill="#e06e4e"/><circle cx="497.2" cy="379.0" r="1.48" fill="#5596cc"/><circle cx="456.7" cy="371.8" r="1.48" fill="#eff3ed"/><circle cx="458.3" cy="414.2" r="1.48" fill="#e06e4e"/><circle cx="471.7" cy="421.2" r="1.48" fill="#f7ab8a"/><circle cx="315.6" cy="394.3" r="1.48" fill="#b2182b"/><circle cx="525.2" cy="271.7" r="1.37" fill="#9fc8e4"/><circle cx="151.1" cy="195.2" r="1.34" fill="#fdd9b8"/><circle cx="465.6" cy="301.7" r="1.26" fill="#5596cc"/><circle cx="507.2" cy="311.4" r="1.26" fill="#9fc8e4"/><circle cx="496.3" cy="359.8" r="1.26" fill="#9fc8e4"/><circle cx="529.2" cy="478.7" r="1.26" fill="#f7ab8a"/></g>
<defs><filter id="hb" x="-30%" y="-200%" width="160%" height="500%"><feGaussianBlur stdDeviation="3"/></filter><filter id="hb2" x="-50%" y="-50%" width="200%" height="200%" filterUnits="userSpaceOnUse"><feGaussianBlur stdDeviation="1"/></filter></defs><g font-size="10.2" fill="#fff" stroke="#fff" stroke-width="15" stroke-linejoin="round" opacity="0.92" filter="url(#hb)"><text x="389.6" y="181.5" textLength="87.5" lengthAdjust="spacingAndGlyphs">Milwaukee: +15.9%</text><text x="484.8" y="206.7" textLength="84.9" lengthAdjust="spacingAndGlyphs">Rochester: +18.2%</text><text x="547.7" y="412.3" textLength="77" lengthAdjust="spacingAndGlyphs">Hartford: +22.3%</text></g>
<g font-size="10.2" fill="#fff" stroke="#fff" stroke-width="15" stroke-linejoin="round" opacity="0.92" filter="url(#hb)"><text x="81.3" y="418.4" textLength="72" lengthAdjust="spacingAndGlyphs">San Jose: -3.7%</text><text x="147.7" y="447.2" textLength="72.3" lengthAdjust="spacingAndGlyphs">Phoenix: -11.4%</text><text x="390.7" y="483.6" textLength="93.3" lengthAdjust="spacingAndGlyphs">New Orleans: -14.0%</text><text x="342.4" y="505.3" textLength="64.6" lengthAdjust="spacingAndGlyphs">Austin: -26.0%</text><text x="380" y="518.6" textLength="92.2" lengthAdjust="spacingAndGlyphs">Punta Gorda: -24.2%</text><text x="402.6" y="537.6" textLength="85" lengthAdjust="spacingAndGlyphs">Cape Coral: -18.0%</text></g>
<g fill="none" stroke="#fff" stroke-width="4" opacity="0.75" filter="url(#hb2)" stroke-linecap="round" stroke-linejoin="round"><path d="M439.4 188.5 C450.0 207.0 453.0 236.0 440.1 260.5"/><path d="M439.0 254.2 L440.1 260.5 L445.9 257.9"/><path d="M537.5 214.0 L537.5 245.2"/><path d="M533.6 240.2 L537.5 245.2 L541.4 240.2"/><path d="M593.0 399.0 C620.0 345.0 617.2 312.0 596.1 266.3"/><path d="M601.8 269.2 L596.1 266.3 L594.6 272.5"/></g><g fill="none" stroke="#fff" stroke-width="4" opacity="0.75" filter="url(#hb2)" stroke-linecap="round" stroke-linejoin="round"><path d="M102.7 405.7 C84.0 393.0 68.5 352.0 67.8 321.7"/><path d="M71.9 326.7 L67.8 321.7 L64.0 326.8"/><path d="M174.6 434.2 C168.0 424.0 164.8 412.0 164.2 399.6"/><path d="M168.4 404.4 L164.2 399.6 L160.5 404.8"/><path d="M424.7 470.0 L424.7 457.8"/><path d="M428.6 462.8 L424.7 457.8 L420.8 462.8"/><path d="M366.7 490.6 L339.3 456.1"/><path d="M345.5 457.6 L339.3 456.1 L339.4 462.5"/><path d="M477.2 516.9 C497.0 513.0 511.0 503.0 522.3 490.2"/><path d="M521.9 496.6 L522.3 490.2 L516.0 491.4"/><path d="M492.0 525.7 C506.0 520.0 516.0 510.0 522.3 497.6"/><path d="M523.5 503.9 L522.3 497.6 L516.5 500.3"/></g><g font-size="10.2" fill="#5fa9d3"><text x="389.6" y="181.5" textLength="87.5" lengthAdjust="spacingAndGlyphs">Milwaukee: +15.9%</text><text x="484.8" y="206.7" textLength="84.9" lengthAdjust="spacingAndGlyphs">Rochester: +18.2%</text><text x="547.7" y="412.3" textLength="77" lengthAdjust="spacingAndGlyphs">Hartford: +22.3%</text></g>
<g font-size="10.2" fill="#f28e66"><text x="81.3" y="418.4" textLength="72" lengthAdjust="spacingAndGlyphs">San Jose: -3.7%</text><text x="147.7" y="447.2" textLength="72.3" lengthAdjust="spacingAndGlyphs">Phoenix: -11.4%</text><text x="390.7" y="483.6" textLength="93.3" lengthAdjust="spacingAndGlyphs">New Orleans: -14.0%</text><text x="342.4" y="505.3" textLength="64.6" lengthAdjust="spacingAndGlyphs">Austin: -26.0%</text><text x="380" y="518.6" textLength="92.2" lengthAdjust="spacingAndGlyphs">Punta Gorda: -24.2%</text><text x="402.6" y="537.6" textLength="85" lengthAdjust="spacingAndGlyphs">Cape Coral: -18.0%</text></g>
<g fill="none" stroke="#5fa9d3" stroke-width="1.15" stroke-linecap="round" stroke-linejoin="round"><path d="M439.4 188.5 C450.0 207.0 453.0 236.0 440.1 260.5"/><path d="M439.0 254.2 L440.1 260.5 L445.9 257.9"/><path d="M537.5 214.0 L537.5 245.2"/><path d="M533.6 240.2 L537.5 245.2 L541.4 240.2"/><path d="M593.0 399.0 C620.0 345.0 617.2 312.0 596.1 266.3"/><path d="M601.8 269.2 L596.1 266.3 L594.6 272.5"/></g><g fill="none" stroke="#f28e66" stroke-width="1.15" stroke-linecap="round" stroke-linejoin="round"><path d="M102.7 405.7 C84.0 393.0 68.5 352.0 67.8 321.7"/><path d="M71.9 326.7 L67.8 321.7 L64.0 326.8"/><path d="M174.6 434.2 C168.0 424.0 164.8 412.0 164.2 399.6"/><path d="M168.4 404.4 L164.2 399.6 L160.5 404.8"/><path d="M424.7 470.0 L424.7 457.8"/><path d="M428.6 462.8 L424.7 457.8 L420.8 462.8"/><path d="M366.7 490.6 L339.3 456.1"/><path d="M345.5 457.6 L339.3 456.1 L339.4 462.5"/><path d="M477.2 516.9 C497.0 513.0 511.0 503.0 522.3 490.2"/><path d="M521.9 496.6 L522.3 490.2 L516.0 491.4"/><path d="M492.0 525.7 C506.0 520.0 516.0 510.0 522.3 497.6"/><path d="M523.5 503.9 L522.3 497.6 L516.5 500.3"/></g>
<clipPath id="hs"><path d="M557.1 573.2 L571.3 564.8 L584.7 573.2 L584.7 594.4 L557.1 594.4 Z"/></clipPath>
<g clip-path="url(#hs)"><rect x="555" y="562" width="32" height="34" fill="#4a9aca"/>
<text x="551.6" y="593.8" font-size="24" font-weight="700" fill="#fff" stroke="#fff" stroke-width="0.9" letter-spacing="-0.3">RC</text></g>
</svg>
<div class="note">Pulled from the Lance Lambert House Price Tracker</div>
<div class="foot">Map: Lance Lambert • Source: ResiClub analysis using the Zillow Home Value Index through the<br>October 2025 reading, published in November 2025 • Created with Datawrapper</div>
<div class="logo">ResiClub</div>
</body></html>
